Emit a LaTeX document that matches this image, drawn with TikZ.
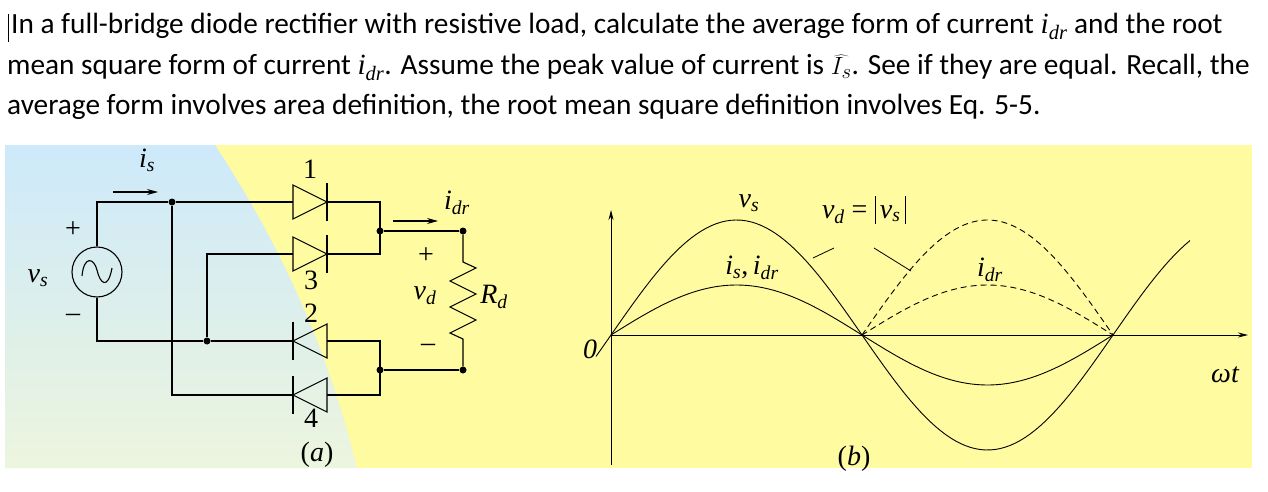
\documentclass[tikz,border=0pt]{standalone}
\usepackage{fontspec}
\setmainfont{Carlito}
\newfontfamily\tms{Liberation Serif}
\usetikzlibrary{arrows.meta,decorations.pathmorphing}
\definecolor{bgy}{RGB}{255,251,160}
\definecolor{bgb1}{RGB}{205,233,250}
\definecolor{bgb2}{RGB}{236,245,222}
\newcommand{\idr}{{\tms\itshape i\textsubscript{dr}}}
\tikzset{
  wire/.style={line width=1.1pt},
  dot/.style={circle,fill=black,inner sep=0pt,minimum size=7pt},
  lbl/.style={font=\tms\fontsize{28}{28}\selectfont,inner sep=0pt},
  ttl/.style={font=\fontsize{29.3}{30}\selectfont,anchor=base west,inner sep=0pt},
  curve/.style={line width=0.9pt},
  dcurve/.style={line width=0.9pt,dash pattern=on 6pt off 4pt},
  diodeR/.pic={\draw[wire,fill=none] (-17,-17)--(17,0)--(-17,17)--cycle; \draw[wire] (17,-19)--(17,19);},
  diodeL/.pic={\draw[wire] (17,-17)--(-17,0)--(17,17)--cycle; \draw[wire] (-17,-19)--(-17,19);}
}
\begin{document}
\begin{tikzpicture}[x=1pt,y=-1pt]
\useasboundingbox (0,0) rectangle (1268,492);
\fill[white] (0,0) rectangle (1268,492);
% title
\draw[line width=0.8pt] (8,14)--(8,42);
\node[ttl] (t1) at (11,34) {In a full-bridge diode rectifier with resistive load, calculate the average form of current \idr{} and the root};
\node[ttl] (t2) at (7,75) {mean square form of current \idr. Assume the peak value of current is $\widehat{I_s}$. See if they are equal. Recall, the};
\node[ttl] (t3) at (7,114) {average form involves area definition, the root mean square definition involves Eq. 5-5.};
% background
\fill[bgy] (5,145) rectangle (1252,468);
\shade[top color=bgb1,bottom color=bgb2] (5,145) -- (215,145) .. controls (290,260) and (330,360) .. (357,468) -- (5,468) -- cycle;
% circuit
\coordinate (st) at (97,202); \coordinate (sb) at (97,341);
\node[draw,circle,wire,minimum size=50pt,inner sep=0pt] (src) at (97,272) {};
\draw[wire] (82,276) .. controls (84,255) and (94,258) .. (97,270) .. controls (100,284) and (108,290) .. (112,268);
\node[dot] (A) at (172,202) {};
\node[dot] (B) at (207,341) {};
\coordinate (d1a) at (293,202); \coordinate (d1k) at (327,202);
\coordinate (d3a) at (293,254); \coordinate (d3k) at (327,254);
\coordinate (d2k) at (293,341); \coordinate (d2a) at (327,341);
\coordinate (d4k) at (293,395); \coordinate (d4a) at (327,395);
\pic at (310,202) {diodeR}; \pic at (310,254) {diodeR};
\pic at (310,341) {diodeL}; \pic at (310,395) {diodeL};
\node[dot] (P) at (380,231) {}; \node[dot] (Q) at (380,370) {};
\node[dot] (P2) at (463,231) {}; \node[dot] (Q2) at (463,370) {};
\draw[wire] (src.north) -- (st) -- (A) -- (d1a);
\draw[wire] (src.south) -- (sb) -- (B) -- (d2k);
\draw[wire] (A) -- (172,395) -- (d4k);
\draw[wire] (B) -- (207,254) -- (d3a);
\draw[wire] (d1k) -- (380,202) -- (380,254) -- (d3k);
\draw[wire] (d2a) -- (380,341) -- (380,395) -- (d4a);
\draw[wire] (P) -- (P2); \draw[wire] (Q) -- (Q2);
\draw[wire] (P2) -- (463,262) -- (476,268) -- (450,281) -- (476,294) -- (450,307) -- (476,320) -- (450,333) -- (463,339) -- (Q2);
\coordinate (ia) at (113,192); \coordinate (ib) at (158,192);
\draw[wire,-{Stealth[length=11pt,width=6pt]}] (ia) -- (ib);
\coordinate (ja) at (393,221); \coordinate (jb) at (438,221);
\draw[wire,-{Stealth[length=11pt,width=6pt]}] (ja) -- (jb);
\node[lbl] at (147,160) {\itshape i\textsubscript{s}};
\node[lbl] at (310,169) {1};
\node[lbl] at (311,280) {3};
\node[lbl] at (311,313) {2};
\node[lbl] at (311,418) {4};
\node[lbl] at (457,203) {\itshape i\textsubscript{dr}};
\node[lbl] at (426,256) {+};
\node[lbl] at (425,296) {\itshape v\textsubscript{d}};
\node[lbl] at (428,348) {\textendash};
\node[lbl] at (494,297) {\itshape R\textsubscript{d}};
\node[lbl] at (73,230) {+};
\node[lbl] at (73,318) {\textendash};
\node[lbl] at (38,278) {\itshape v\textsubscript{s}};
\node[lbl] at (317,455) {(\textit{a})};
% waveform
\coordinate (O) at (611,335);
\coordinate (yb) at (611,465); \coordinate (yt) at (611,210);
\coordinate (xe) at (1248,335);
\draw[line width=0.9pt,-{Stealth[length=10pt,width=5pt]}] (yb) -- (yt);
\draw[line width=0.9pt,-{Stealth[length=10pt,width=5pt]}] (O) -- (xe);
\draw[curve] plot[domain=596:1190,samples=120] (\x,{335-115*sin((\x-611)/251*180)});
\draw[curve] plot[domain=611:1113,samples=100] (\x,{335-50*sin((\x-611)/251*180)});
\draw[dcurve] plot[domain=862:1113,samples=60] (\x,{335-115*abs(sin((\x-611)/251*180))});
\draw[dcurve] plot[domain=862:1113,samples=60] (\x,{335-50*abs(sin((\x-611)/251*180))});
\draw[line width=0.8pt] (813,258) -- (834,248);
\draw[line width=0.8pt] (874,248) -- (911,271);
\node[lbl] at (749,203) {\itshape v\textsubscript{s}};
\node[lbl] at (864,210) {\itshape v\textsubscript{d} \upshape = \rule[-6pt]{0.8pt}{28pt}\,\itshape v\textsubscript{s}\,\rule[-6pt]{0.8pt}{28pt}};
\node[lbl] at (752,268) {\itshape i\textsubscript{s}\upshape ,\,\itshape i\textsubscript{dr}};
\node[lbl] at (990,270) {\itshape i\textsubscript{dr}};
\node[lbl] at (1225,375) {\itshape ωt};
\node[lbl] at (590,349) {\itshape 0};
\node[lbl] at (854,459) {(\textit{b})};
\end{tikzpicture}
\end{document}
